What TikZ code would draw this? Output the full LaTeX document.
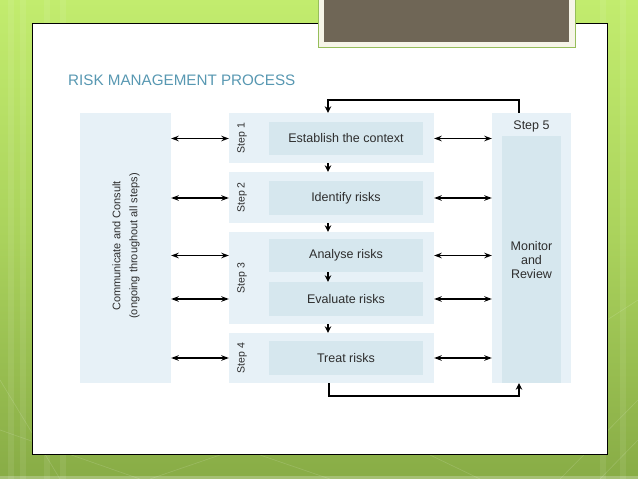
\documentclass[tikz,border=0pt]{standalone}
\usepackage{fontspec}
\setmainfont{Liberation Sans}
\usetikzlibrary{arrows.meta,calc}
\definecolor{bgtop}{RGB}{194,236,110}
\definecolor{bgmid}{RGB}{170,210,92}
\definecolor{bgbot}{RGB}{136,172,70}
\definecolor{darkbox}{RGB}{111,102,86}
\definecolor{cream}{RGB}{246,245,232}
\definecolor{frameg}{RGB}{150,190,90}
\definecolor{outerblue}{RGB}{231,241,247}
\definecolor{innerblue}{RGB}{214,231,238}
\definecolor{titleblue}{RGB}{88,152,178}
\definecolor{txt}{RGB}{45,45,45}
\begin{document}
\begin{tikzpicture}[x=1pt,y=-1pt,
  outerbox/.style={fill=outerblue, draw=none, inner sep=0pt, minimum width=205pt},
  innerbox/.style={fill=innerblue, draw=none, inner sep=0pt, minimum width=154pt, text=txt, font=\fontsize{12.5}{15}\selectfont},
  steplbl/.style={rotate=90, inner sep=0pt, text=txt, font=\fontsize{10.5}{12}\selectfont},
  dbl/.style={line width=1.4pt, {Stealth[length=7.5pt,width=5.5pt]}-{Stealth[length=7.5pt,width=5.5pt]}},
  arr/.style={line width=1.4pt, -{Stealth[length=6.5pt,width=6.5pt]}},
]
\useasboundingbox (0,0) rectangle (638,479);
% background
\shade[top color=bgtop, bottom color=bgbot, middle color=bgmid] (0,0) rectangle (638,479);
\foreach \xx in {8,20,44,60,600,620} {\fill[white, opacity=0.08] (\xx,0) rectangle (\xx+6,479);}
\draw[white, opacity=0.15, line width=0.6pt] (0,430) -- (140,479) (0,380) -- (60,479) (150,479) -- (220,455) (330,479) -- (260,455) (480,479) -- (430,455) (638,400) -- (560,479) (638,440) -- (600,479) (607,320) -- (638,300);
\fill[white, opacity=0.25] (0,476) rectangle (638,479);
% white panel
\draw[fill=white, line width=1pt] (32,23) rectangle (607,454);
% dark box at top
\draw[frameg, fill=cream, line width=0.8pt] (318,-2) rectangle (575,47);
\fill[darkbox] (324,-2) rectangle (569,42);
% title
\node[anchor=west, inner sep=0pt, text=titleblue, font=\fontsize{15.2}{18}\selectfont] (title) at (68,80) {RISK MANAGEMENT PROCESS};
% left box
\node[fill=outerblue, inner sep=0pt, minimum width=91pt, minimum height=270pt] (comm) at (125.5,248) {};
\node[rotate=90, align=center, inner sep=0pt, text=txt, font=\fontsize{11}{17}\selectfont] (commtxt) at (126,246) {Communicate and Consult\\(ongoing throughout all steps)};
% step boxes
\node[outerbox, minimum height=50pt] (s1) at (331.5,138) {};
\node[outerbox, minimum height=51pt] (s2) at (331.5,197.5) {};
\node[outerbox, minimum height=92pt] (s3) at (331.5,278) {};
\node[outerbox, minimum height=50pt] (s4) at (331.5,358) {};
\node[innerbox, minimum height=33pt] (s1in) at (346,138.5) {Establish the context};
\node[innerbox, minimum height=34pt] (s2in) at (346,198) {Identify risks};
\node[innerbox, minimum height=33pt] (an) at (346,255.5) {Analyse risks};
\node[innerbox, minimum height=34pt] (ev) at (346,299) {Evaluate risks};
\node[innerbox, minimum height=34pt] (s4in) at (346,358) {Treat risks};
\node[steplbl] (l1) at (242,138) {Step 1};
\node[steplbl] (l2) at (242,197.5) {Step 2};
\node[steplbl] (l3) at (242,278) {Step 3};
\node[steplbl] (l4) at (242,358) {Step 4};
% step 5
\node[fill=outerblue, inner sep=0pt, minimum width=79pt, minimum height=270pt] (s5) at (531.5,248) {};
\node[fill=innerblue, inner sep=0pt, minimum width=59pt, minimum height=247pt] (s5in) at (531.5,259.5) {};
\node[inner sep=0pt, text=txt, font=\fontsize{12.5}{15}\selectfont] (l5) at (531.5,126) {Step 5};
\node[inner sep=0pt, align=center, text=txt, font=\fontsize{12.5}{14}\selectfont] (mon) at (531.5,260) {Monitor\\and\\Review};
% left arrows
\draw[dbl] (comm.east |- s1in) -- (s1.west |- s1in);
\draw[dbl] (comm.east |- s2in) -- (s2.west |- s2in);
\draw[dbl] (comm.east |- an) -- (s3.west |- an);
\draw[dbl] (comm.east |- ev) -- (s3.west |- ev);
\draw[dbl] (comm.east |- s4in) -- (s4.west |- s4in);
% right arrows
\draw[dbl] (s1.east |- s1in) -- (s5.west |- s1in);
\draw[dbl] (s2.east |- s2in) -- (s5.west |- s2in);
\draw[dbl] (s3.east |- an) -- (s5.west |- an);
\draw[dbl] (s3.east |- ev) -- (s5.west |- ev);
\draw[dbl] (s4.east |- s4in) -- (s5.west |- s4in);
% down arrows
\coordinate (fbL) at (328,100);
\coordinate (fbR) at (519,100);
\coordinate (bL) at (329,396);
\coordinate (bR) at (519,396);
\draw[arr] (s1.south -| fbL) -- (s2.north -| fbL);
\draw[arr] (s2.south -| fbL) -- (s3.north -| fbL);
\draw[arr] (an.south -| fbL) -- (ev.north -| fbL);
\draw[arr] (s3.south -| fbL) -- (s4.north -| fbL);
% feedback loops
\draw[arr] (s5.north -| fbR) -- (fbR) -- (fbL) -- (s1.north -| fbL);
\draw[arr] (s4.south -| bL) -- (bL) -- (bR) -- (s5.south -| bR);
\end{tikzpicture}
\end{document}
